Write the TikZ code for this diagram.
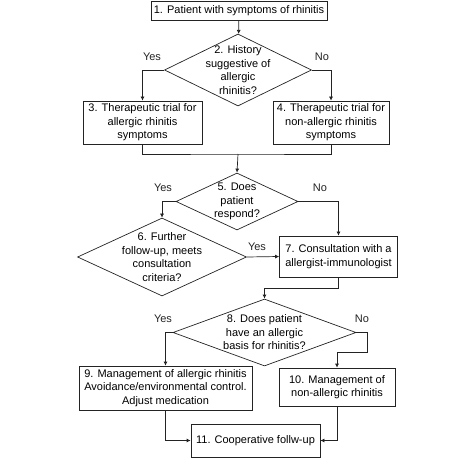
\documentclass[tikz,border=0pt]{standalone}
\usepackage{fontspec}
\setmainfont{Liberation Sans}
\usetikzlibrary{shapes.geometric,arrows.meta}
\definecolor{lineGray}{RGB}{35,35,35}

\begin{document}
\begin{tikzpicture}[x=1bp,y=-1bp,
  font=\fontsize{11bp}{13.5bp}\selectfont,
  stepbox/.style={draw=lineGray, line width=0.7bp, rectangle, align=center, inner sep=0pt},
  decision/.style={draw=lineGray, line width=0.7bp, diamond, inner sep=0pt},
  answer/.style={inner sep=0pt, text=lineGray},
  flow/.style={draw=lineGray, line width=0.7bp, -{Latex[length=4bp,width=4bp]}},
  link/.style={draw=lineGray, line width=0.7bp}]
  \useasboundingbox (0,0) rectangle (474,474);
  % boxes
  \node[stepbox, minimum width=176bp, minimum height=19bp] (s1) at (239,10.5) {1. Patient with symptoms of rhinitis};
  \node[stepbox, minimum width=119bp, minimum height=43bp] (s3) at (142.5,122.5) {3. Therapeutic trial for\\allergic rhinitis\\symptoms};
  \node[stepbox, minimum width=116bp, minimum height=43bp] (s4) at (331,122.5) {4. Therapeutic trial for\\non-allergic rhinitis\\symptoms};
  \node[stepbox, minimum width=118bp, minimum height=41bp] (s7) at (338.5,256.5) {7. Consultation with a\\allergist-immunologist};
  \node[stepbox, minimum width=173bp, minimum height=44bp] (s9) at (165.5,388) {9. Management of allergic rhinitis\\Avoidance/environmental control.\\Adjust medication};
  \node[stepbox, minimum width=116bp, minimum height=38bp] (s10) at (337,387) {10. Management of\\non-allergic rhinitis};
  \node[stepbox, minimum width=129bp, minimum height=33bp] (s11) at (255.5,440.5) {11. Cooperative follw-up};
  % decisions
  \node[decision, minimum width=147bp, minimum height=72bp] (d2) at (238,70) {};
  \node[align=center] (d2t) at (d2) {2. History\\suggestive of\\allergic\\rhinitis?};
  \node[decision, minimum width=122bp, minimum height=57bp] (d5) at (237,201.5) {};
  \node[align=center] (d5t) at (d5) {5. Does\\patient\\respond?};
  \node[decision, minimum width=169bp, minimum height=78bp] (d6) at (162,257) {};
  \node[align=center] (d6t) at (d6) {6. Further\\follow-up, meets\\consultation\\criteria?};
  \node[decision, minimum width=183bp, minimum height=67bp] (d8) at (264.5,332.5) {};
  \node[align=center] (d8t) at (d8) {8. Does patient\\have an allergic\\basis for rhinitis?};
  % answers
  \node[answer] (y2) at (152,57) {Yes};
  \node[answer] (n2) at (322,57) {No};
  \node[answer] (y5) at (163,188) {Yes};
  \node[answer] (n5) at (320,188) {No};
  \node[answer] (y6) at (257,247) {Yes};
  \node[answer] (y8) at (163,319) {Yes};
  \node[answer] (n8) at (362,319) {No};
  % connectors
  \coordinate (m1) at (238,154);
  \coordinate (m2) at (264.5,288);
  \coordinate (m3) at (337,352);
  \draw[flow] (s1) -- (d2);
  \draw[flow] (d2.west) -| (s3.north);
  \draw[flow] (d2.east) -| (s4.north);
  \draw[link] (s3.south) |- (m1) -| (s4.south);
  \draw[flow] (m1) -- (d5.north);
  \draw[flow] (d5.west) -| (d6.north);
  \draw[flow] (d5.east) -| (s7.north);
  \draw[flow] (d6.east) -- (s7.west);
  \draw[flow] (s7.south) |- (m2) -- (d8.north);
  \draw[flow] (d8.west) -| (s9.north);
  \draw[flow] (d8.east) -- ++(11,0) |- (m3) -- (s10.north);
  \draw[flow] (s9.south) |- (s11.west);
  \draw[flow] (s10.south) |- (s11.east);
\end{tikzpicture}
\end{document}
